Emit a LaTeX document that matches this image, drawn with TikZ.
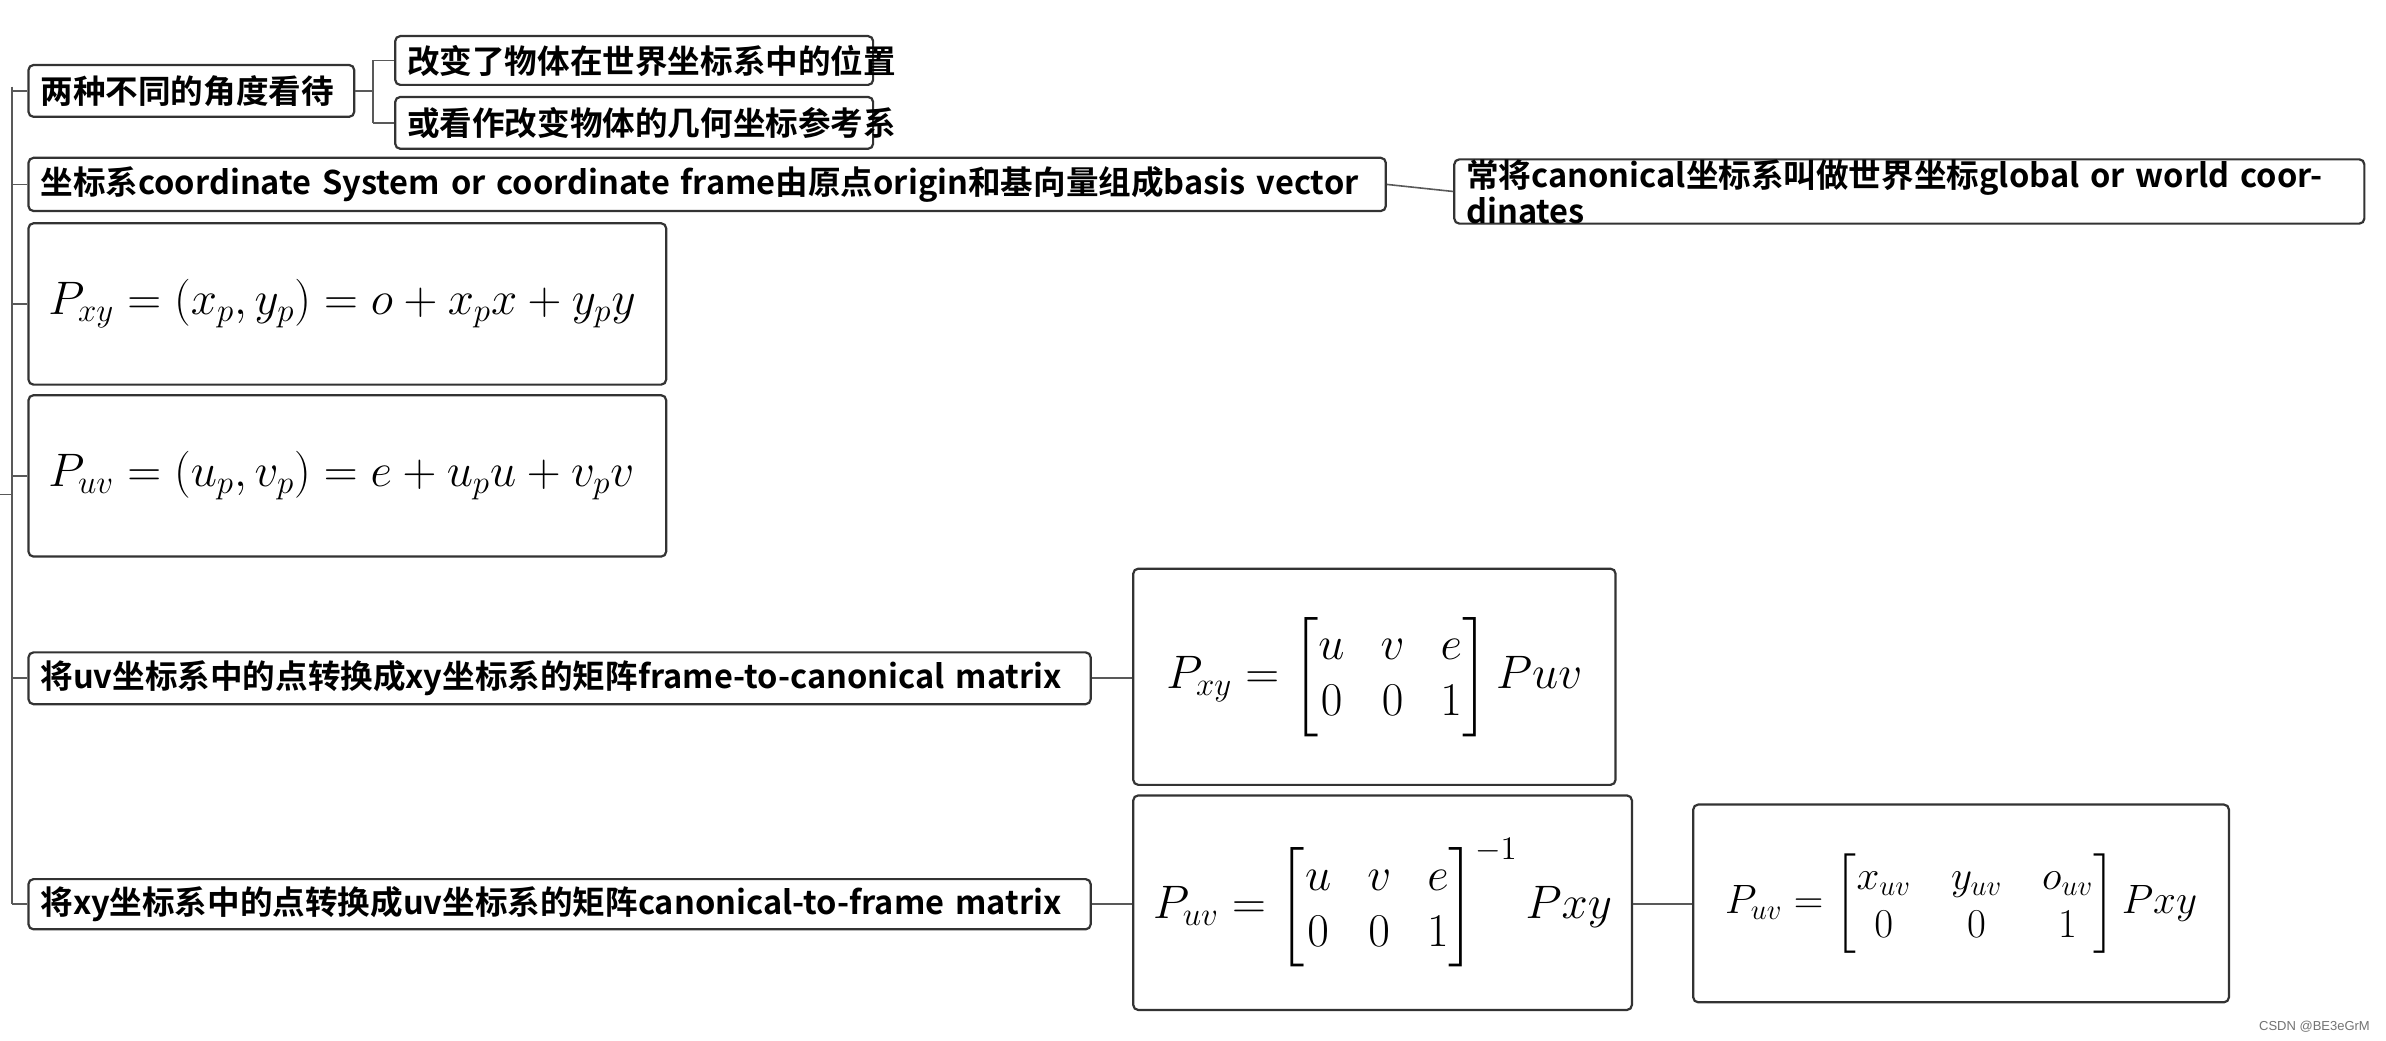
\documentclass[tikz,border=0pt]{standalone}
\usepackage{fix-cm}
\usepackage{amsmath}
\usepackage{fontspec}
\newfontfamily\cjk{Noto Sans CJK SC Bold}
\newfontfamily\wmk{Liberation Sans}
\begin{document}
\begin{tikzpicture}[x=0.761pt,y=-0.761pt,
  box/.style={draw=black!80,line width=1.1pt,rounded corners=2.5pt,inner xsep=6pt,inner ysep=0pt,anchor=north west,align=left,font=\cjk\fontsize{16.3}{18}\selectfont},
  fbox/.style={draw=black!80,line width=1.1pt,rounded corners=2.5pt,inner xsep=10pt,inner ysep=0pt,anchor=north west,font=\fontsize{23.5}{28}\selectfont\setlength{\arraycolsep}{9pt}},
  ln/.style={draw=black!65,line width=0.8pt}]
\fill[white] (0,0) rectangle (1568,684);
\useasboundingbox (0,0) rectangle (1568,684);
\coordinate (sp) at (8,0);
\coordinate (sq) at (245,0);
\node[box,minimum width=162.9pt,minimum height=25.9pt,text width=150.9pt] (a) at (18,42) {两种不同的角度看待};
\node[box,minimum width=239pt,minimum height=24.4pt,text width=227pt] (b1) at (259,23) {改变了物体在世界坐标系中的位置};
\node[box,minimum width=239pt,minimum height=25.9pt,text width=227pt] (b2) at (259,63) {或看作改变物体的几何坐标参考系};
\node[box,minimum width=678.8pt,minimum height=26.6pt,text width=666.8pt] (c) at (18,103) {坐标系coordinate System or coordinate frame由原点origin和基向量组成basis vector};
\node[box,minimum width=455.1pt,minimum height=25.9pt,text width=443.1pt] (d) at (955,104) {常将canonical坐标系叫做世界坐标global or world coordinates};
\node[fbox,minimum width=318.9pt,minimum height=80.7pt,text width=298.9pt,align=left] (e) at (18,146) {$P_{xy}=(x_p,y_p)=o+x_px+y_py$};
\node[fbox,minimum width=318.9pt,minimum height=80.7pt,text width=298.9pt,align=left] (f) at (18,259) {$P_{uv}=(u_p,v_p)=e+u_pu+v_pv$};
\node[box,minimum width=531.2pt,minimum height=25.9pt,text width=519.2pt] (g) at (18,428) {将uv坐标系中的点转换成xy坐标系的矩阵frame-to-canonical matrix};
\node[fbox,minimum width=241.2pt,minimum height=108.1pt] (h) at (744,373) {$P_{xy}=\begin{bmatrix}u&v&e\\0&0&1\end{bmatrix}Puv$};
\node[box,minimum width=531.2pt,minimum height=25.1pt,text width=519.2pt] (i) at (18,577) {将xy坐标系中的点转换成uv坐标系的矩阵canonical-to-frame matrix};
\node[fbox,minimum width=246.6pt,minimum height=107.3pt] (j) at (744,522) {$P_{uv}=\begin{bmatrix}u&v&e\\0&0&1\end{bmatrix}^{-1}Pxy$};
\node[fbox,minimum width=267.9pt,minimum height=98.9pt,font=\fontsize{20.5}{24}\selectfont\setlength{\arraycolsep}{10pt}] (k) at (1112,528) {$P_{uv}=\begin{bmatrix}x_{uv}&y_{uv}&o_{uv}\\0&0&1\end{bmatrix}Pxy$};
\node[anchor=east,font=\wmk\fontsize{6.5}{7}\selectfont,text=black!55] (w) at (1562,675) {CSDN @BE3eGrM};
% connectors
\coordinate (top) at (8,57);
\coordinate (bot) at (8,594);
\coordinate (root) at (0,325);
\draw[ln] (top) -- (bot);
\draw[ln] (root) -- (root -| sp);
\foreach \n in {a,c,e,f,g,i} \draw[ln] (\n.west) -- (\n.west -| sp);
\draw[ln] (a.east) -- (a.east -| sq);
\draw[ln] (b1.west -| sq) -- (b2.west -| sq);
\draw[ln] (b1.west) -- (b1.west -| sq);
\draw[ln] (b2.west) -- (b2.west -| sq);
\draw[ln] (c.east) -- (d.west);
\draw[ln] (g.east) -- (h.west |- g.east);
\draw[ln] (i.east) -- (j.west |- i.east);
\draw[ln] (j.east |- i.east) -- (k.west |- i.east);
\end{tikzpicture}
\end{document}
